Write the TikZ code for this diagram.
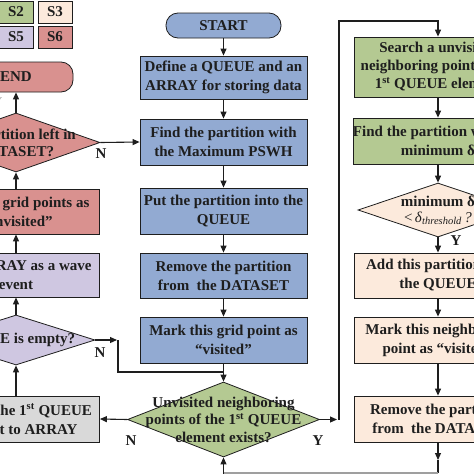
\documentclass[tikz,border=0pt]{standalone}
\usepackage{fontspec}
\setmainfont{Liberation Serif}
\usetikzlibrary{arrows.meta,shapes.geometric}
\definecolor{blueS}{RGB}{146,170,210}
\definecolor{greenS}{RGB}{180,201,146}
\definecolor{peachS}{RGB}{252,234,220}
\definecolor{lilacS}{RGB}{207,199,225}
\definecolor{pinkS}{RGB}{217,145,143}
\definecolor{greyS}{RGB}{217,217,217}
\definecolor{inkS}{RGB}{30,30,30}
\tikzset{
	box/.style={draw=inkS, line width=0.8pt, minimum width=167pt, inner sep=0pt, align=center, text=inkS, font=\bfseries\fontsize{15}{19}\selectfont},
	term/.style={box, rounded corners=12pt},
	key/.style={box, minimum width=34pt, minimum height=22pt},
	dia/.style={draw=inkS, line width=0.8pt, diamond, inner sep=0pt},
	lab/.style={text=inkS, font=\bfseries\fontsize{15}{17}\selectfont},
	wire/.style={draw=inkS, line width=1.1pt},
	conn/.style={wire, -{Triangle[length=7pt,width=6pt]}}
}
\begin{document}
\begin{tikzpicture}[x=1pt,y=-1pt]
	\useasboundingbox (0,0) rectangle (474,474);
	\clip (0,0) rectangle (474,474);
	\fill[white] (0,0) rectangle (474,474);

	\node[key,fill=greenS] (s2) at (16,12) {S2};
	\node[key,fill=peachS] (s3) at (55,12) {S3};
	\node[key,fill=lilacS] (s5) at (16,37) {S5};
	\node[key,fill=pinkS] (s6) at (55,37) {S6};

	\node[term,fill=blueS,minimum width=115pt,minimum height=25pt] (start) at (223.5,25.5) {START};
	\node[box,fill=blueS,minimum height=43pt] (define) at (223.5,77.5) {Define a QUEUE and an\\ARRAY for storing data};
	\node[box,fill=blueS,minimum height=46pt] (find) at (223.5,142) {Find the partition with\\the Maximum PSWH};
	\node[box,fill=blueS,minimum height=46pt] (put) at (223.5,211) {Put the partition into the\\QUEUE};
	\node[box,fill=blueS,minimum height=45pt] (remove) at (223.5,275.5) {Remove the partition\\from\ \ the DATASET};
	\node[box,fill=blueS,minimum height=46pt] (mark) at (223.5,340) {Mark this grid point as\\“visited”};
	\node[dia,fill=greenS,minimum width=192pt,minimum height=75pt] (unvis) at (223.5,419.5) {};
	\node[lab,align=center,font=\bfseries\fontsize{15}{17.5}\selectfont] (unvistext) at (unvis) {Unvisited neighboring\\points of the 1\textsuperscript{st} QUEUE\\element exists?};

	\node[term,fill=pinkS,minimum width=114pt,minimum height=30pt] (finish) at (16,77) {END};
	\node[dia,fill=pinkS,minimum width=168pt,minimum height=59pt] (left) at (16,142.5) {};
	\node[lab,align=center] (lefttext) at (left) {No partition left in\\DATASET?};
	\node[box,fill=pinkS,minimum height=45pt] (reset) at (16,211.5) {Mark all grid points as\\“unvisited”};
	\node[box,fill=lilacS,minimum height=44pt] (save) at (16,275) {Save ARRAY as a wave\\event};
	\node[dia,fill=lilacS,minimum width=158pt,minimum height=50pt] (empty) at (16,340) {};
	\node[lab] (emptytext) at (empty) {QUEUE is empty?};
	\node[box,fill=greyS,minimum height=46pt] (pop) at (16,419) {Remove the 1\textsuperscript{st} QUEUE\\element to ARRAY};

	\node[box,fill=greenS,minimum height=60pt,font=\bfseries\fontsize{15}{18}\selectfont] (search) at (438,67) {Search a unvisited\\neighboring point of the\\1\textsuperscript{st} QUEUE element};
	\node[box,fill=greenS,minimum height=46pt] (nearest) at (438,141) {Find the partition with the\\minimum δ};
	\node[dia,fill=peachS,minimum width=160pt,minimum height=54pt] (thr) at (438,210) {};
	\node[lab,align=center,font=\bfseries\fontsize{15}{16}\selectfont] (thrtext) at (thr) {minimum δ\\{\mdseries <\,\textit{δ}\textsubscript{\textit{threshold}}\,\textit{?}}};
	\node[box,fill=peachS,minimum height=45pt] (add) at (438,275.5) {Add this partition into\\the QUEUE};
	\node[box,fill=peachS,minimum height=46pt] (nmark) at (438,340) {Mark this neighboring\\point as “visited”};
	\node[box,fill=peachS,minimum height=46pt] (nremove) at (438,419) {Remove the partition\\from\ \ the DATASET};

	\coordinate (jE) at (118,340);
	\coordinate (jM) at (223.5,372);
	\coordinate (jR) at (339,419.5);
	\coordinate (jT) at (339,21);
	\coordinate (jS) at (438,21);
	\coordinate (jD) at (438,460);
	\coordinate (bR) at (438,473);
	\coordinate (bL) at (223.5,473);

	\draw[conn] (start) -- (define);
	\draw[conn] (define) -- (find);
	\draw[conn] (find) -- (put);
	\draw[conn] (put) -- (remove);
	\draw[conn] (remove) -- (mark);
	\draw[conn] (mark) -- (unvis);

	\draw[conn] (left.east) -- (find.west);
	\draw[conn] (left) -- (finish);
	\draw[conn] (reset) -- (left);
	\draw[conn] (save) -- (reset);
	\draw[conn] (empty) -- (save);
	\draw[conn] (pop) -- (empty);
	\draw[conn] (empty.east) -- ([xshift=-1pt]jE);
	\draw[wire] (jE) |- (jM);
	\draw[conn] (unvis.west) -- (pop.east);

	\draw[conn] (unvis.east) -- ([xshift=-2pt]jR);
	\draw[conn] (jR) -- (jT) -- (jS) -- (search);
	\draw[conn] (search) -- (nearest);
	\draw[conn] (nearest) -- (thr);
	\draw[conn] (thr) -- (add);
	\draw[conn] (add) -- (nmark);
	\draw[conn] (nmark) -- (nremove);
	\draw[conn] (nremove) -- (jD);
	\draw[wire] (jD) -- (bR);
	\draw[draw=gray!75, line width=2pt] (bR) -- (bL);
	\draw[conn] ([yshift=-1pt]bL) -- (unvis.south);

	\node[lab] (nleft) at (101,154) {N};
	\node[lab] (nempty) at (100,353) {N};
	\node[lab] (nunvis) at (131,441) {N};
	\node[lab] (yunvis) at (318,441) {Y};
	\node[lab] (ythr) at (456,241) {Y};
	\node[lab,text=gray,font=\itshape\fontsize{9}{10}\selectfont] (yend) at (-1,101) {Y};
\end{tikzpicture}
\end{document}
